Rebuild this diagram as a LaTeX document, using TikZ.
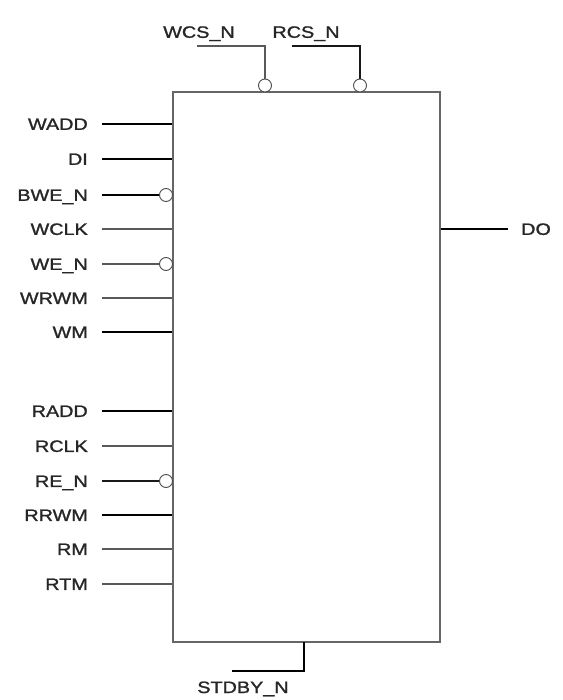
\documentclass[tikz,border=0pt]{standalone}
\usepackage{fontspec}
\setmainfont{Liberation Sans}[FakeBold=1.2]
\usepackage{graphicx}
\usetikzlibrary{positioning}
\newcommand{\sig}[1]{\scalebox{1.2}[1]{#1}}

\begin{document}
\begin{tikzpicture}[x=1pt,y=-1pt,node distance=14pt,
    pin text/.style={inner sep=0pt,text height=11.8pt,text depth=0pt,text=black!85,font=\fontsize{16.5}{18}\selectfont},
    bus/.style={line width=2.8pt,black},
    mid wire/.style={line width=1.9pt,black!90},
    wire/.style={line width=1.2pt,black!65},
    bubble/.style={circle,draw=black!70,line width=0.9pt,fill=white,inner sep=0pt,minimum size=13pt}]
    \useasboundingbox (0,0) rectangle (562,700);

    % memory block
    \node[draw=black!60,line width=1.3pt,minimum width=267pt,minimum height=550pt,inner sep=0pt] (ram) at (306.5,367) {};

    % write port
    \coordinate (wadd) at (102,124);
    \coordinate (di) at (102,159);
    \coordinate (bwe) at (102,195);
    \coordinate (wclk) at (102,229);
    \coordinate (we) at (102,264);
    \coordinate (wrwm) at (102,298);
    \coordinate (wm) at (102,332);
    \node[bubble] (bweb) at (166,195) {};
    \node[bubble] (web) at (166,264) {};

    \draw[bus] (wadd) -- (wadd -| ram.west);
    \draw[bus] (di) -- (di -| ram.west);
    \draw[bus] (bwe) -- (bweb.west);
    \draw[wire] (wclk) -- (wclk -| ram.west);
    \draw[wire] (we) -- (web.west);
    \draw[wire] (wrwm) -- (wrwm -| ram.west);
    \draw[bus] (wm) -- (wm -| ram.west);

    \node[pin text,left=of wadd] {\sig{WADD}};
    \node[pin text,left=of di] {\sig{DI}};
    \node[pin text,left=of bwe] {\sig{BWE\_N}};
    \node[pin text,left=of wclk] {\sig{WCLK}};
    \node[pin text,left=of we] {\sig{WE\_N}};
    \node[pin text,left=of wrwm] {\sig{WRWM}};
    \node[pin text,left=of wm] {\sig{WM}};

    % read port
    \coordinate (radd) at (102,411);
    \coordinate (rclk) at (102,446);
    \coordinate (re) at (102,481);
    \coordinate (rrwm) at (102,515);
    \coordinate (rm) at (102,549);
    \coordinate (rtm) at (102,584);
    \node[bubble] (reb) at (166,481) {};

    \draw[bus] (radd) -- (radd -| ram.west);
    \draw[wire] (rclk) -- (rclk -| ram.west);
    \draw[mid wire] (re) -- (reb.west);
    \draw[bus] (rrwm) -- (rrwm -| ram.west);
    \draw[wire] (rm) -- (rm -| ram.west);
    \draw[wire] (rtm) -- (rtm -| ram.west);

    \node[pin text,left=of radd] {\sig{RADD}};
    \node[pin text,left=of rclk] {\sig{RCLK}};
    \node[pin text,left=of re] {\sig{RE\_N}};
    \node[pin text,left=of rrwm] {\sig{RRWM}};
    \node[pin text,left=of rm] {\sig{RM}};
    \node[pin text,left=of rtm] {\sig{RTM}};

    % chip selects
    \coordinate (wcs) at (197,46);
    \coordinate (rcs) at (292,46);
    \node[bubble] (wcsb) at (265,85.5) {};
    \node[bubble] (rcsb) at (360,85.5) {};
    \draw[wire] (wcs) -| (wcsb.north);
    \draw[mid wire] (rcs) -| (rcsb.north);
    \node[pin text,above=8pt of wcs,xshift=2pt] {\sig{WCS\_N}};
    \node[pin text,above=8pt of rcs,xshift=14pt] {\sig{RCS\_N}};

    % output and standby
    \coordinate (do) at (508,229);
    \draw[bus] (do -| ram.east) -- (do);
    \node[pin text,right=13pt of do] {\sig{DO}};

    \coordinate (stdby) at (232,671);
    \draw[bus] (stdby) -| (304,642);
    \node[pin text,below=10pt of stdby,xshift=11pt] {\sig{STDBY\_N}};
\end{tikzpicture}
\end{document}
